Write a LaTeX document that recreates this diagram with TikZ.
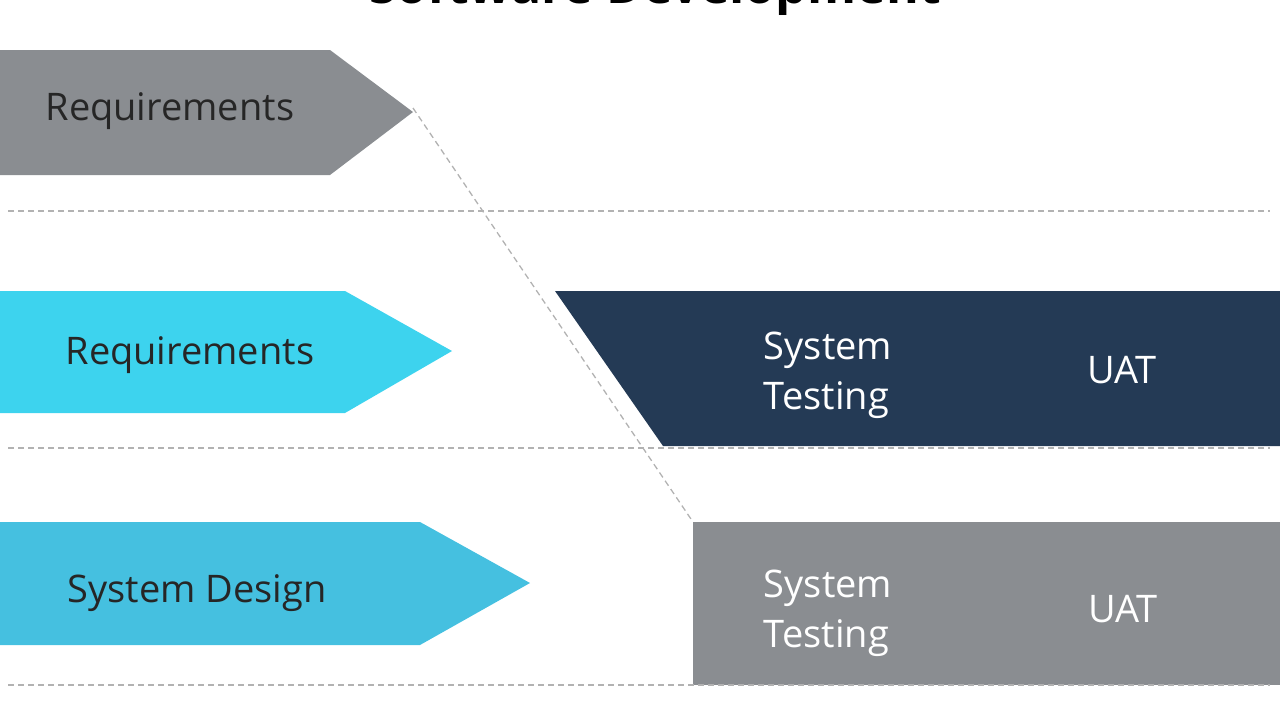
\documentclass[tikz,border=0pt]{standalone}
\usepackage{fontspec}
\setmainfont{Open Sans}
\begin{document}
\begin{tikzpicture}[x=1pt,y=-1pt,
  lbl/.style={font=\fontsize{38}{48}\selectfont, text=black!85},
  wlbl/.style={font=\fontsize{38}{50}\selectfont, text=white, align=left},
  guide/.style={draw=gray!60, dash pattern=on 6pt off 4pt, line width=1.3pt}]
\useasboundingbox (0,0) rectangle (1280,720);
\definecolor{gr}{HTML}{8A8D91}
\definecolor{cy1}{HTML}{3DD3EE}
\definecolor{cy2}{HTML}{45C0E0}
\definecolor{navy}{HTML}{243A55}
\node[anchor=base, font=\bfseries\fontsize{50}{56}\selectfont] (title) at (655,4) {Software Development};
\fill[gr] (0,50) -- (330,50) -- (413,112) -- (330,175) -- (0,175) -- cycle;
\fill[cy1] (0,291) -- (345,291) -- (452,351) -- (345,413) -- (0,413) -- cycle;
\fill[cy2] (0,522) -- (420,522) -- (530,583) -- (420,645) -- (0,645) -- cycle;
\fill[navy] (555,291) -- (1280,291) -- (1280,446) -- (663,446) -- cycle;
\fill[gr] (693,522) rectangle (1280,685);
\draw[guide] (8,211) -- (1270,211);
\draw[guide] (8,448) -- (1270,448);
\draw[guide] (8,685) -- (1270,685);
\draw[guide] (413,108) -- (693,522);
\node[lbl, anchor=west] (r1) at (42,111) {Requirements};
\node[lbl, anchor=west] (r2) at (62,355) {Requirements};
\node[lbl, anchor=west] (sd) at (64,593) {System Design};
\node[wlbl] (st1) at (828,375) {System\\Testing};
\node[wlbl] (u1) at (1122,370) {UAT};
\node[wlbl] (st2) at (828,613) {System\\Testing};
\node[wlbl] (u2) at (1123,609) {UAT};
\end{tikzpicture}
\end{document}
